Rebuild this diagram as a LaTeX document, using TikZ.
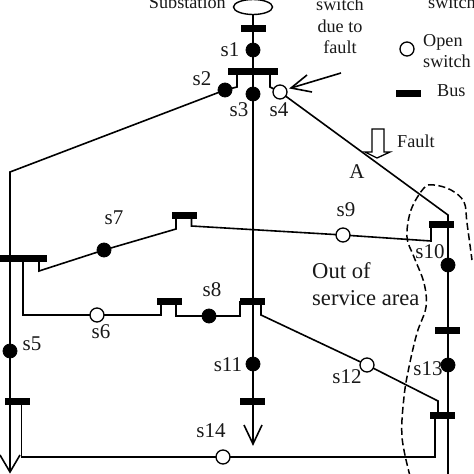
\documentclass[tikz,border=0pt]{standalone}
\usepackage{fontspec}
\usetikzlibrary{shapes.geometric}
\setmainfont{Liberation Serif}
\tikzset{
  busbar/.style={draw=none,fill=black,minimum width=25pt,minimum height=7pt,inner sep=0pt,outer sep=0pt},
  closedsw/.style={circle,draw=black,fill=black,line width=0.8pt,minimum size=14pt,inner sep=0pt,outer sep=0pt},
  opensw/.style={circle,draw=black,fill=white,line width=1.3pt,minimum size=14pt,inner sep=0pt,outer sep=0pt},
  wire/.style={draw=black,line width=1.6pt,line join=miter},
  lab/.style={font=\fontsize{21}{21}\selectfont,text=black!90,inner sep=0pt,anchor=base},
  note/.style={font=\fontsize{18.2}{18.2}\selectfont,text=black!90,inner sep=0pt,anchor=base},
  big/.style={font=\fontsize{22.6}{22.6}\selectfont,text=black!90,inner sep=0pt,anchor=base west}
}
\begin{document}
\begin{tikzpicture}[x=1pt,y=-1pt]
\useasboundingbox (0,0) rectangle (474,474);
\clip (0,0) rectangle (474,474);
% buses
\node[busbar] (b0) at (253,28.5) {};
\node[busbar,minimum width=50pt] (b1) at (253,71) {};
\node[busbar,minimum width=50pt] (bL) at (22,258) {};
\node[busbar] (b7) at (184,215) {};
\node[busbar] (b6) at (169.5,301) {};
\node[busbar] (b8) at (252.5,301) {};
\node[busbar] (bLow) at (17,401) {};
\node[busbar] (b11) at (252.5,401) {};
\node[busbar] (b10) at (441,224) {};
\node[busbar] (b13) at (447,330) {};
\node[busbar] (b12) at (442,415) {};
\node[busbar] (legbus) at (408,93) {};
% substation
\node[ellipse,draw=black,line width=1.4pt,fill=white,minimum width=39pt,minimum height=15pt,inner sep=0pt,outer sep=0pt] (sub) at (253,7) {};
% switches
\node[closedsw] (s1) at (253,50) {};
\node[closedsw] (s2) at (225,90) {};
\node[closedsw] (s3) at (253,94) {};
\node[opensw] (s4) at (280,92) {};
\node[closedsw] (s5) at (10,351) {};
\node[opensw] (s6) at (97,315) {};
\node[closedsw] (s7) at (104,250) {};
\node[closedsw] (s8) at (209,316) {};
\node[opensw] (s9) at (343,235) {};
\node[closedsw] (s10) at (448,265) {};
\node[closedsw] (s11) at (253,364) {};
\node[opensw] (s12) at (367,365) {};
\node[closedsw] (s13) at (448,365) {};
\node[opensw] (s14) at (223,457) {};
\node[opensw] (legopen) at (407,49) {};
% bends and free ends
\coordinate (k2a) at (237,71);
\coordinate (k2b) at (237,87);
\coordinate (k4a) at (270,71);
\coordinate (k4b) at (270,87);
\coordinate (kL) at (10,172);
\coordinate (bot1) at (10,472);
\coordinate (barbL1) at (0,455);
\coordinate (barbR1) at (20,455);
\coordinate (k4c) at (448,215);
\coordinate (botR) at (448,474);
\coordinate (tip) at (253,444);
\coordinate (barbL) at (244,425);
\coordinate (barbR) at (262,425);
\coordinate (k7a) at (39,258);
\coordinate (k7b) at (39,271);
\coordinate (k7c) at (176,229);
\coordinate (k7d) at (176,215);
\coordinate (k9a) at (191.5,215);
\coordinate (k9b) at (191.5,226);
\coordinate (k9c) at (431,241);
\coordinate (k9d) at (431,224);
\coordinate (k6a) at (23,258);
\coordinate (k6b) at (23,315);
\coordinate (k6c) at (161,315);
\coordinate (k6d) at (161,301);
\coordinate (k8a) at (176,301);
\coordinate (k8b) at (176,316);
\coordinate (k8c) at (240,316);
\coordinate (k8d) at (240,301);
\coordinate (k12a) at (261,301);
\coordinate (k12b) at (261,315);
\coordinate (k12c) at (438,401);
\coordinate (k12d) at (438,415);
\coordinate (k14a) at (21.5,401);
\coordinate (k14b) at (21.5,457);
\coordinate (k14c) at (435,457);
\coordinate (k14d) at (435,415);
\coordinate (ptrTail) at (341,73);
\coordinate (ptrTip) at (291,88);
\coordinate (ptrA) at (307,75);
\coordinate (ptrB) at (312,92);
% fault arrow
\draw[line width=1.3pt,fill=white,line join=miter] (372,129) -- (384,129) -- (384,152) -- (390,152) -- (377,158) -- (365,152) -- (372,152) -- cycle;
% connectors
\draw[wire] (sub) -- (b0) -- (s1) -- (b1) -- (s3) -- (s11) -- (tip);
\draw[wire] (barbL) -- (tip) -- (barbR);
\draw[wire] (k2a) -- (k2b) -- (s2) -- (kL) -- (s5) -- (bot1);
\draw[wire] (barbL1) -- (bot1) -- (barbR1);
\draw[wire] (k4a) -- (k4b) -- (s4);
\draw[wire] (s4) -- (k4c) -- (s10) -- (s13) -- (botR);
\draw[wire] (k7a) -- (k7b) -- (s7) -- (k7c) -- (k7d);
\draw[wire] (k9a) -- (k9b) -- (s9) -- (k9c) -- (k9d);
\draw[wire] (k6a) -- (k6b) -- (s6) -- (k6c) -- (k6d);
\draw[wire] (k8a) -- (k8b) -- (s8) -- (k8c) -- (k8d);
\draw[wire] (k12a) -- (k12b) -- (s12) -- (k12c) -- (k12d);
\draw[wire] (k14a) -- (k14b) -- (s14) -- (k14c) -- (k14d);
\draw[wire] (ptrTail) -- (ptrTip);
\draw[wire] (ptrA) -- (ptrTip) -- (ptrB);
% out-of-service boundary
\draw[line width=1.5pt,dash pattern=on 7pt off 3.5pt]
  plot[smooth,tension=0.6] coordinates {(410,476) (402,437) (404,397) (409,367) (417,333) (426,307) (424,283) (414,257) (407,237) (411,210) (424,188) (434,185) (451,190) (464,202) (467,223) (472,260)};
% labels
\node[note,anchor=base east] at (226,8) {Substation};
\node[note] at (340,10) {switch};
\node[note] at (340,32) {due to};
\node[note] at (340,53) {fault};
\node[note,anchor=base west] at (428,8) {switch};
\node[note,anchor=base west] at (423,46) {Open};
\node[note,anchor=base west] at (423,67) {switch};
\node[note,anchor=base west] at (437,96) {Bus};
\node[note,anchor=base west] at (397,147) {Fault};
\node[lab] at (357,178) {A};
\node[lab] (ls1) at (230,56) {s1};
\node[lab] (ls2) at (202,85) {s2};
\node[lab] (ls3) at (239,116) {s3};
\node[lab] (ls4) at (279,116) {s4};
\node[lab] (ls5) at (32,350) {s5};
\node[lab] (ls6) at (101,338) {s6};
\node[lab] (ls7) at (114,224) {s7};
\node[lab] (ls8) at (212,296) {s8};
\node[lab] (ls9) at (346,216) {s9};
\node[lab] (ls10) at (430,258) {s10};
\node[lab] (ls11) at (228,371) {s11};
\node[lab] (ls12) at (347,383) {s12};
\node[lab] (ls13) at (428,375) {s13};
\node[lab] (ls14) at (211,437) {s14};
\node[big] at (312,278) {Out of};
\node[big] at (312,305) {service area};
\end{tikzpicture}
\end{document}
